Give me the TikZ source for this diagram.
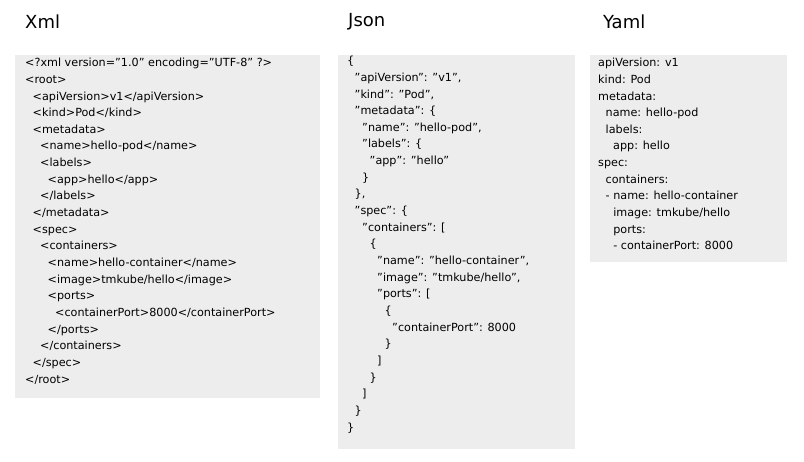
\documentclass[tikz,border=0pt]{standalone}
\usepackage{fontspec}
\setmainfont{DejaVu Sans}
\newcommand{\ind}[1]{\hspace*{#1\dimexpr 7.5pt\relax}}
\begin{document}
\begin{tikzpicture}[x=1pt,y=-1pt,
  box/.style={fill=black!7,draw=none},
  ttl/.style={anchor=west,inner sep=0,font=\fontsize{18}{22}\selectfont},
  code/.style={anchor=north west,inner sep=0,align=left,font=\fontsize{11.2}{16.65}\selectfont}]
\useasboundingbox (0,0) rectangle (804,461);
\fill[white] (0,0) rectangle (804,461);
\fill[box] (15,55) rectangle (320,398);
\fill[box] (338,55) rectangle (575,449);
\fill[box] (590,55) rectangle (787,262);
\node[ttl] (tx) at (25,22) {Xml};
\node[ttl] (tj) at (348,22) {Json};
\node[ttl] (ty) at (603,22) {Yaml};
\node[code] (cx) at (25,58) {<?xml version="1.0" encoding="UTF-8" ?>\\
<root>\\
\ind1<apiVersion>v1</apiVersion>\\
\ind1<kind>Pod</kind>\\
\ind1<metadata>\\
\ind2<name>hello-pod</name>\\
\ind2<labels>\\
\ind3<app>hello</app>\\
\ind2</labels>\\
\ind1</metadata>\\
\ind1<spec>\\
\ind2<containers>\\
\ind3<name>hello-container</name>\\
\ind3<image>tmkube/hello</image>\\
\ind3<ports>\\
\ind4<containerPort>8000</containerPort>\\
\ind3</ports>\\
\ind2</containers>\\
\ind1</spec>\\
</root>};
\node[code] (cj) at (347,56) {\{\\
\ind1"apiVersion": "v1",\\
\ind1"kind": "Pod",\\
\ind1"metadata": \{\\
\ind2"name": "hello-pod",\\
\ind2"labels": \{\\
\ind3"app": "hello"\\
\ind2\}\\
\ind1\},\\
\ind1"spec": \{\\
\ind2"containers": [\\
\ind3\{\\
\ind4"name": "hello-container",\\
\ind4"image": "tmkube/hello",\\
\ind4"ports": [\\
\ind5\{\\
\ind6"containerPort": 8000\\
\ind5\}\\
\ind4]\\
\ind3\}\\
\ind2]\\
\ind1\}\\
\}};
\node[code] (cy) at (598,58) {apiVersion: v1\\
kind: Pod\\
metadata:\\
\ind1name: hello-pod\\
\ind1labels:\\
\ind2app: hello\\
spec:\\
\ind1containers:\\
\ind1- name: hello-container\\
\ind1\phantom{- }image: tmkube/hello\\
\ind1\phantom{- }ports:\\
\ind1\phantom{- }- containerPort: 8000};
\end{tikzpicture}
\end{document}
